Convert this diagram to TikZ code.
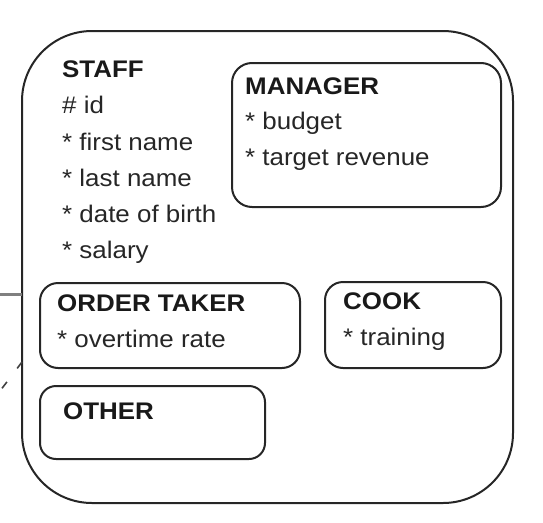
\documentclass[tikz,border=0pt]{standalone}
\usepackage{fontspec}
\setmainfont{Liberation Sans}[FakeStretch=1.08]
\usetikzlibrary{calc}
\begin{document}
\begin{tikzpicture}[x=1pt,y=-1pt,
  entbox/.style={draw=black!85,line width=2pt,rounded corners=#1,inner sep=0pt,outer sep=0pt},
  etitle/.style={anchor=base west,inner sep=0pt,font=\fontsize{24}{24}\selectfont\bfseries,text=black!90},
  eattr/.style={anchor=base west,inner sep=0pt,font=\fontsize{24}{24}\selectfont,text=black!85},
  stub/.style={draw=black!50,line width=3pt},
  dashlink/.style={draw=black!75,line width=1.6pt,dash pattern=on 8pt off 17pt}]
\useasboundingbox (0,0) rectangle (543,522);
% boxes
\node[entbox=70pt,minimum width=491pt,minimum height=472pt] (outer) at (267.5,267) {};
\node[entbox=20pt,minimum width=269pt,minimum height=144pt] (manager) at (366.5,135) {};
\node[entbox=18pt,minimum width=260pt,minimum height=85pt] (ordertaker) at (170,325.5) {};
\node[entbox=18pt,minimum width=176pt,minimum height=86pt] (cook) at (413,325) {};
\node[entbox=16pt,minimum width=225pt,minimum height=73pt] (other) at (152.5,422.5) {};
% STAFF
\node[etitle] (staffT) at (62,77) {STAFF};
\node[eattr] (staff1) at (62,113) {\# id};
\node[eattr] (staff2) at (62,150) {* first name};
\node[eattr] (staff3) at (62,186) {* last name};
\node[eattr] (staff4) at (62,222) {* date of birth};
\node[eattr] (staff5) at (62,258) {* salary};
% MANAGER
\node[etitle] (managerT) at (245,94) {MANAGER};
\node[eattr] (manager1) at (245,129) {* budget};
\node[eattr] (manager2) at (245,165) {* target revenue};
% ORDER TAKER
\node[etitle] (ordertakerT) at (57,311) {ORDER TAKER};
\node[eattr] (ordertaker1) at (57,347) {* overtime rate};
% COOK
\node[etitle] (cookT) at (343,309) {COOK};
\node[eattr] (cook1) at (343,345) {* training};
% OTHER
\node[etitle] (otherT) at (63,419) {OTHER};
% connectors from outside
\coordinate (stubL) at (0,294);
\draw[stub] (stubL) -- (stubL -| outer.west);
\coordinate (dashL) at (0,391);
\coordinate (dashE) at (outer.west |- 0,362);
\draw[dashlink] (dashE) -- (dashL);
\end{tikzpicture}
\end{document}
